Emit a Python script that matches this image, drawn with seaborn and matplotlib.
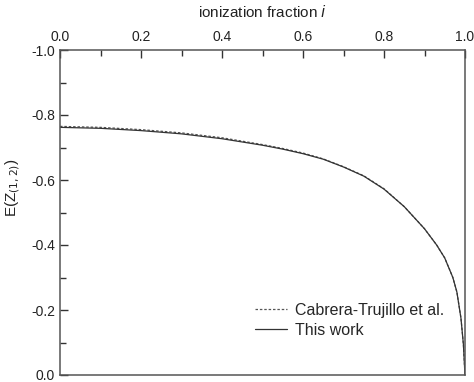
import seaborn as sns
import matplotlib.pyplot as plt
import pandas as pd

# ionization fraction i and the two curves
frac = [0.0, 0.1, 0.2, 0.3, 0.4, 0.5, 0.55, 0.6, 0.65, 0.7, 0.75, 0.8, 0.85,
        0.9, 0.93, 0.95, 0.97, 0.98, 0.99, 0.996, 1.0]
this_work = [-0.762, -0.759, -0.752, -0.742, -0.727, -0.707, -0.695, -0.681,
             -0.664, -0.640, -0.612, -0.572, -0.518, -0.450, -0.400, -0.360,
             -0.300, -0.255, -0.175, -0.095, 0.0]
cabrera = [-0.765, -0.762, -0.755, -0.745, -0.730, -0.709, -0.697, -0.683,
           -0.665, -0.641, -0.613, -0.573, -0.518, -0.450, -0.400, -0.360,
           -0.300, -0.255, -0.175, -0.095, 0.0]
x_ticks = [0.0, 0.2, 0.4, 0.6, 0.8, 1.0]
y_ticks = [-1.0, -0.8, -0.6, -0.4, -0.2, 0.0]

sns.set_theme(style="ticks")
plt.rcParams['font.family'] = ['Liberation Sans', 'DejaVu Sans']
plt.rcParams['axes.unicode_minus'] = False

df = pd.DataFrame({
    "i": frac * 2,
    "E": cabrera + this_work,
    "src": ["Cabrera-Trujillo et al."] * len(frac) + ["This work"] * len(frac),
})

fig = plt.figure(figsize=(4.74, 3.82), dpi=100)
ax = fig.add_axes([60 / 474, 7 / 382, 405 / 474, 325 / 382])

sns.lineplot(data=df, x="i", y="E", hue="src", style="src",
             palette=["#555555", "#333333"],
             dashes={"Cabrera-Trujillo et al.": (2, 1.5), "This work": ""},
             linewidth=0.9, ax=ax)

ax.set_xlim(0.0, 1.0)
ax.set_ylim(0.0, -1.0)
ax.xaxis.tick_top()
ax.xaxis.set_label_position("top")
ax.set_xticks(x_ticks)
ax.set_xticklabels([f"{t:.1f}" for t in x_ticks])
ax.set_yticks(y_ticks)
ax.set_yticklabels([f"{t:.1f}" for t in y_ticks])
ax.set_xticks([0.1, 0.3, 0.5, 0.7, 0.9], minor=True)
ax.set_yticks([-0.9, -0.7, -0.5, -0.3, -0.1], minor=True)
ax.tick_params(which="both", direction="in", color="#333333", labelsize=10,
               labelcolor="#222222")
ax.tick_params(which="major", length=6, width=1)
ax.tick_params(which="minor", length=4, width=1)
ax.tick_params(axis="x", pad=4)
for s in ax.spines.values():
    s.set_color("#555555")
    s.set_linewidth(1.1)

ax.set_xlabel("ionization fraction $i$", fontsize=11, labelpad=10, color="#222222")
ax.set_ylabel("E(Z$_{(1,2)}$)", fontsize=11, color="#222222")
ax.yaxis.set_label_coords(-0.094, 0.575)

ax.legend(title=None, frameon=False, loc="lower right",
          bbox_to_anchor=(0.985, 0.07), fontsize=11.5, handlelength=2.0,
          handletextpad=0.5, labelspacing=0.3)

fig.savefig("out.png", dpi=100)
